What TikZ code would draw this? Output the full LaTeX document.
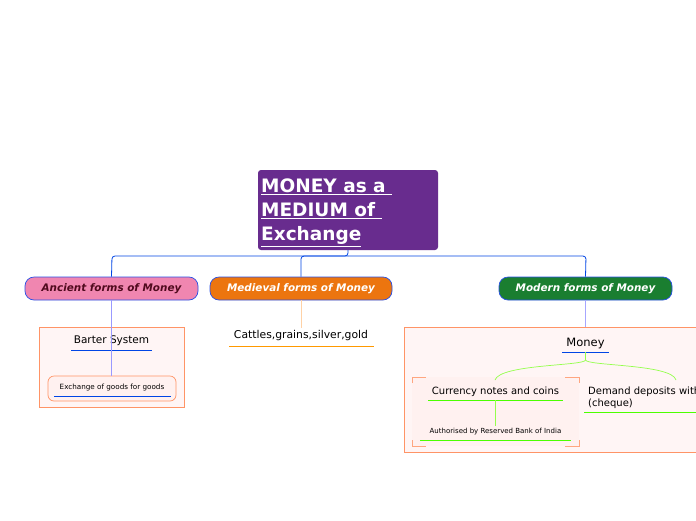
\documentclass[tikz,border=0pt]{standalone}
\usepackage{fontspec}
\setmainfont{DejaVu Sans}
\begin{document}
\begin{tikzpicture}[x=1pt,y=-1pt,
  topic/.style={rounded corners=9pt,draw={rgb,255:red,40;green,80;blue,230},line width=0.7pt,minimum height=23pt,inner sep=0pt,font=\fontsize{10.4}{12}\selectfont\bfseries\itshape},
  area/.style={draw=orange!60!red!60,fill=orange!8!red!4,line width=0.8pt},
  lbl/.style={font=\fontsize{10.5}{12}\selectfont,inner sep=0pt}]
\colorlet{ln}{blue!70!cyan!90!black}
\fill[white] (0,0) rectangle (696,520);
\clip (0,0) rectangle (696,520);
% root
\node[fill={rgb,255:red,104;green,44;blue,142},rounded corners=3pt,minimum width=180pt,minimum height=80pt,inner sep=0pt] (root) at (348,210) {};
\node[anchor=north west,text=white,font=\fontsize{18.5}{24}\selectfont\bfseries,align=left,inner sep=0pt] (roott) at (261,179) {\underline{MONEY as a\ }\\\underline{MEDIUM of\ }\\\underline{Exchange}};
% topics
\node[topic,fill={rgb,255:red,240;green,134;blue,176},minimum width=173pt,text={rgb,255:red,80;green,10;blue,30}] (anc) at (111.5,288.5) {Ancient forms of Money};
\node[topic,fill={rgb,255:red,236;green,117;blue,15},minimum width=182pt,text=white] (med) at (301,288.5) {Medieval forms of Money};
\node[topic,fill={rgb,255:red,26;green,126;blue,48},minimum width=173pt,text=white] (mod) at (585.5,288.5) {Modern forms of Money};
\draw[ln,line width=0.8pt,rounded corners=3pt] (root.south) -- (348,256) -- (112,256) -- (anc.north);
\draw[ln,line width=0.8pt,rounded corners=3pt] (348,256) -- (586,256) -- (mod.north);
\draw[ln,line width=0.8pt,rounded corners=3pt] (348,256) -- (301,256) -- (med.north);
% ancient
\draw[area] (39,327) rectangle (184,407);
\node[lbl] (bart) at (111.5,341) {Barter System};
\draw[ln,line width=1pt] (71,350) -- (152,350);
\node[draw=orange!60!red!60,fill=orange!15!red!6,rounded corners=6pt,minimum width=128pt,minimum height=25pt,inner sep=0pt,line width=0.7pt] (exb) at (112,388.5) {};
\draw[blue!40,line width=0.7pt] (anc.south) -- (111.5,376);
\node[lbl,font=\fontsize{7.2}{8}\selectfont] (ex) at (112,388) {Exchange of goods for goods};
\draw[ln,line width=1pt] (54,396) -- (171,396);
% medieval
\draw[orange!35,line width=0.7pt] (med.south) -- (301,328);
\node[lbl,font=\fontsize{10.8}{12}\selectfont] (cat) at (301,336) {Cattles,grains,silver,gold};
\draw[orange!80!yellow,line width=1pt] (229,346) -- (374,346);
% modern
\draw[area] (404,327) rectangle (700,452);
\draw[blue!35,line width=0.7pt] (mod.south) -- (585.5,327);
\node[lbl,font=\fontsize{11.5}{12}\selectfont] (money) at (585.5,343) {Money};
\draw[ln,line width=1pt] (562,352) -- (609,352);
\fill[orange!12!red!6] (412,377) rectangle (579,446);
\draw[orange!60!red!50,line width=0.9pt] (412,383) -- (412,377) -- (426,377);
\draw[orange!60!red!50,line width=0.9pt] (565,377) -- (579,377) -- (579,383);
\draw[orange!60!red!50,line width=0.9pt] (412,440) -- (412,446) -- (426,446);
\draw[orange!60!red!50,line width=0.9pt] (565,446) -- (579,446) -- (579,440);
\draw[green!60!yellow!70,line width=0.7pt] (585.5,352) -- (585.5,360) .. controls (585,366) and (500,364) .. (495,380);
\draw[green!60!yellow!70,line width=0.7pt] (585.5,360) .. controls (587,366) and (672,364) .. (676,380);
\node[lbl,font=\fontsize{10}{12}\selectfont] (cur) at (495.5,392) {Currency notes and coins};
\draw[green!70!yellow,line width=1pt] (428,400) -- (563,400);
\draw[green!60!yellow!70,line width=0.7pt] (495.5,400) -- (495.5,426);
\node[lbl,font=\fontsize{7}{8}\selectfont] (auth) at (495.5,432) {Authorised by Reserved Bank of India};
\draw[green!70!yellow,line width=1pt] (420,440) -- (571,440);
\node[lbl,anchor=north west,align=left,font=\fontsize{10}{12}\selectfont] (dem) at (588,386.5) {Demand deposits with\\(cheque)};
\draw[green!70!yellow,line width=1pt] (584,412) -- (700,412);
\end{tikzpicture}
\end{document}
